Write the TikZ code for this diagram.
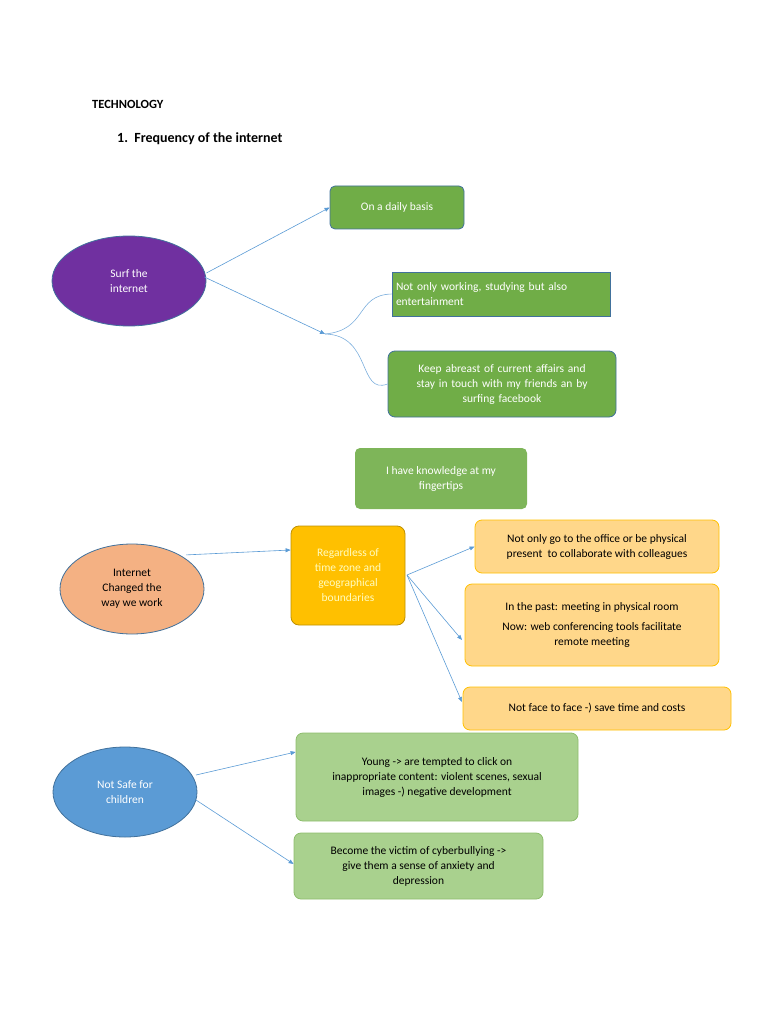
\documentclass[tikz,border=0pt]{standalone}
\usepackage{fontspec}
\setmainfont{Carlito}
\usetikzlibrary{shapes.geometric,arrows.meta}
\definecolor{pur}{HTML}{7030A0}
\definecolor{gr}{HTML}{70AD47}
\definecolor{lgr}{HTML}{A9D18E}
\definecolor{bdr}{HTML}{41719C}
\definecolor{ln}{HTML}{5B9BD5}
\definecolor{sal}{HTML}{F4B183}
\definecolor{gold}{HTML}{FFC000}
\definecolor{lgold}{HTML}{FFD78A}
\begin{document}
\begin{tikzpicture}[x=1pt,y=-1pt,
  every node/.style={font=\fontsize{11.5}{15}\selectfont, align=center, inner sep=2pt},
  ell/.style={ellipse, draw=bdr, line width=0.8pt, minimum width=#1, minimum height=90pt},
  box/.style={draw=bdr, line width=0.8pt, fill=gr, text=white, rounded corners=5pt},
  obox/.style={draw=gold, line width=0.8pt, fill=lgold, rounded corners=7pt},
  lbox/.style={draw=gr!80, line width=0.8pt, fill=lgr, rounded corners=7pt},
  con/.style={draw=ln, line width=0.6pt, -{Triangle[length=5pt,width=4pt]}},
  brace/.style={draw=ln!80, line width=0.6pt}]
\useasboundingbox (0,0) rectangle (768,1024);
\node[anchor=west, font=\fontsize{12.5}{15}\bfseries] (t1) at (90,104) {TECHNOLOGY};
\node[anchor=west, font=\fontsize{14}{16}\bfseries] (t2) at (115,139) {1.\ \ Frequency of the internet};

\node[ell=154pt, fill=pur, text=white] (surf) at (129,281) {Surf the\\internet};
\node[box, minimum width=134pt, minimum height=43pt] (daily) at (397,207.5) {On a daily basis};
\node[box, rounded corners=0pt, minimum width=218pt, minimum height=44pt, text width=210pt, align=left] (work) at (501,294) {Not only working, studying but also\\entertainment};
\node[box, rounded corners=7pt, minimum width=228pt, minimum height=66pt, text width=220pt] (keep) at (502,384) {Keep abreast of current affairs and\\stay in touch with my friends an by\\surfing facebook};
\node[box, draw=none, fill=gr!90!white, minimum width=172pt, minimum height=61pt] (know) at (441,478.5) {I have knowledge at my\\fingertips};
\coordinate (meet) at (325,334);
\draw[con] (surf.east) ++(0,-8) coordinate (s1) -- (daily.west);
\draw[con] (surf.east) ++(-2,-4) coordinate (s2) -- (meet);
\draw[brace] (work.west) .. controls (355,295) and (368,330) .. (meet);
\draw[brace] (keep.west) .. controls (358,395) and (372,335) .. (meet);

\node[ell=144pt, fill=sal, text=black] (inet) at (132,589) {Internet\\Changed the\\way we work};
\node[draw=gold!75!black, line width=0.8pt, fill=gold, rounded corners=8pt, text=yellow!25!white, minimum width=114pt, minimum height=99pt] (reg) at (348,575.5) {Regardless of\\time zone and\\geographical\\boundaries};
\node[obox, minimum width=244pt, minimum height=53pt] (go) at (597,546.5) {Not only go to the office or be physical\\present\ \ to collaborate with colleagues};
\node[obox, minimum width=254pt, minimum height=82pt] (past) at (592,625) {In the past: meeting in physical room\\[5pt]Now: web conferencing tools facilitate\\remote meeting};
\node[obox, minimum width=268pt, minimum height=43pt] (face) at (597,708.5) {Not face to face -) save time and costs};
\draw[con] (inet.north east) ++(3,-2) coordinate (i1) -- (reg.west |- 0,550) coordinate (r0);
\coordinate (rs) at (407,575);
\draw[con] (rs) -- (go.west);
\draw[con] (rs) -- (462,640);
\draw[con] (rs) -- (462,702);

\node[ell=144pt, fill=ln, text=white] (safe) at (125,792) {Not Safe for\\children};
\node[lbox, minimum width=282pt, minimum height=88pt] (young) at (437,777) {Young -> are tempted to click on\\inappropriate content: violent scenes, sexual\\images -) negative development};
\node[lbox, minimum width=249pt, minimum height=66pt] (vict) at (418.5,866) {Become the victim of cyberbullying ->\\give them a sense of anxiety and\\depression};
\draw[con] (196,775) -- (young.west |- 0,752);
\draw[con] (196,800) -- (vict.west |- 0,864);
\end{tikzpicture}
\end{document}
